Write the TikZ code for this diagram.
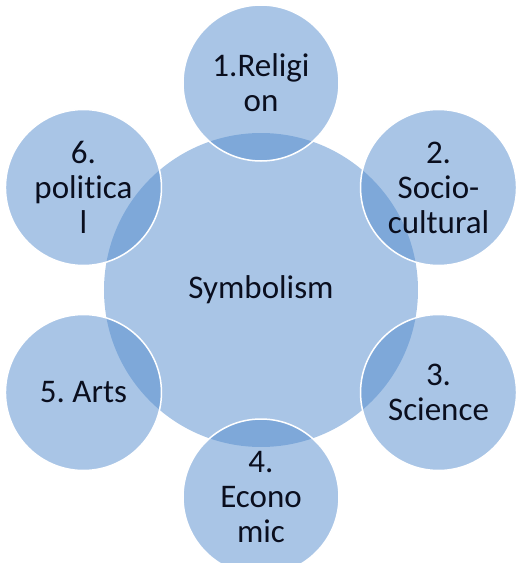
\documentclass[tikz,border=0pt]{standalone}
\usepackage{fontspec}
\setmainfont[Ligatures=NoCommon]{Carlito}
\frenchspacing
\definecolor{my_blue}{RGB}{84, 140, 205}
\definecolor{my_text}{RGB}{10, 14, 30}
\tikzset {
  hub/.style = {circle, fill=my_blue, fill opacity=0.5, text opacity=1, text=my_text, minimum size=314pt, inner sep=0pt, align=center, font=\fontsize{33}{35}\selectfont},
  topic/.style = {circle, draw=white, draw opacity=1, line width=1.5pt, fill=my_blue, fill opacity=0.5, text opacity=1, text=my_text, minimum size=156pt, inner sep=0pt, align=center, font=\fontsize{33}{35}\selectfont},
}

\begin{document}
\begin{tikzpicture}
    \useasboundingbox (-261pt,-273pt) rectangle (265pt,290pt);

    \node[hub] (symbolism) at (0,0) {Symbolism};

    % the six topics around the hub
    \node[topic] (religion) at (90:207pt) {1.Religi\\on};
    \node[topic] (socio) at (30:205pt) {2.\\Socio-\\cultural};
    \node[topic] (science) at (-30:205pt) {3.\\Science};
    \node[topic] (economic) at (-90:207pt) {4.\\Econo\\mic};
    \node[topic] (arts) at (-150:205pt) {5. Arts};
    \node[topic] (political) at (150:205pt) {6.\\politica\\l};

\end{tikzpicture}
\end{document}
